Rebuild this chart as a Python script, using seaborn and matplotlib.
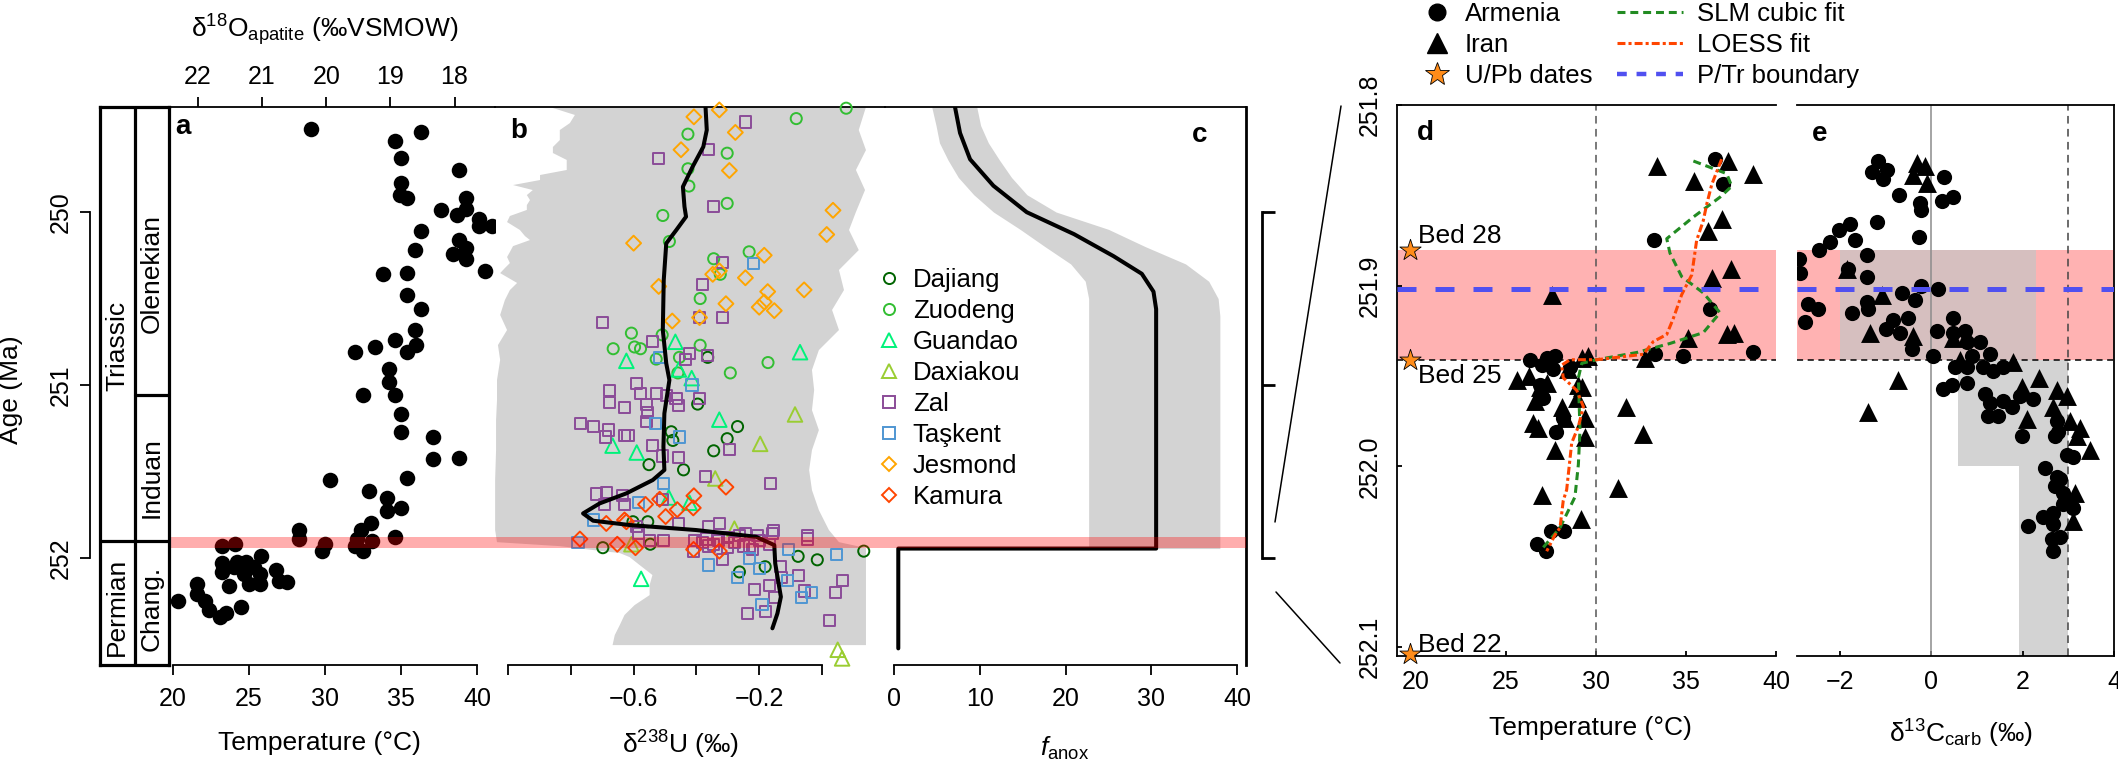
import numpy as np
import pandas as pd
import matplotlib
matplotlib.use("Agg")
import matplotlib.pyplot as plt
from matplotlib.lines import Line2D
import seaborn as sns

# ------------------------------------------------------------------ data
# Panel a: conodont apatite temperatures
a_temp = [29.1, 36.3, 34.6, 35.0, 38.8, 35.0, 34.9, 35.4, 39.3, 37.6,
          38.7, 39.3, 40.1, 41.0, 40.1, 36.3, 38.8, 39.3, 38.4, 39.3,
          35.9, 40.5, 35.4, 33.8, 35.4, 36.3, 35.9, 34.6, 36.0, 33.3,
          32.0, 35.4, 34.2, 34.2, 32.5, 34.6, 35.0, 35.0, 37.1, 37.1,
          38.8, 30.3, 35.4, 32.9, 34.1, 34.1, 35.0, 33.0, 32.4, 28.3,
          28.3, 34.6, 32.1, 33.1, 32.0, 30.0, 29.8, 32.5, 23.2, 24.1,
          23.2, 23.2, 24.2, 24.8, 25.8, 25.3, 24.0, 26.8, 24.7, 25.7,
          27.0, 27.5, 25.0, 25.7, 23.7, 21.6, 21.6, 22.1, 20.3, 22.4,
          24.5, 23.5, 23.1]
a_age = [249.52, 249.54, 249.59, 249.69, 249.76, 249.83, 249.90, 249.92, 249.92, 249.99,
         250.02, 249.98, 250.04, 250.08, 250.08, 250.11, 250.16, 250.21, 250.24, 250.27,
         250.22, 250.34, 250.35, 250.36, 250.48, 250.56, 250.68, 250.74, 250.77, 250.78,
         250.81, 250.81, 250.91, 250.98, 251.06, 251.06, 251.17, 251.27, 251.30, 251.43,
         251.42, 251.55, 251.54, 251.61, 251.65, 251.73, 251.71, 251.80, 251.84, 251.84,
         251.89, 251.88, 251.89, 251.90, 251.93, 251.92, 251.96, 251.96, 251.93, 251.92,
         252.03, 252.08, 252.02, 252.02, 251.99, 252.05, 252.05, 252.07, 252.09, 252.09,
         252.13, 252.14, 252.15, 252.15, 252.16, 252.15, 252.21, 252.25, 252.25, 252.30,
         252.28, 252.32, 252.34]
# d18O(apatite) <-> temperature calibration used for the top axis
CAL_A, CAL_B, D18O_WATER = 118.7, 4.22, -1.0
d18o_ticks = [22, 21, 20, 19, 18]
temp_ticks = [20, 25, 30, 35, 40]
age_ticks = [250, 251, 252]

# stratigraphic column
ptb_age = 251.90
ind_ole_age = 251.06
strat_labels = ["Triassic", "Olenekian", "Induan", "Permian", "Chang."]
strat_label_age = [250.775, 250.353, 251.532, 252.283, 252.289]
strat_label_col = [0.25, 0.75, 0.75, 0.25, 0.75]

# pink event band in a-c
band_ac = (251.88, 251.944)

# Panel b: d238U by section
site_names = ["Dajiang", "Zuodeng", "Guandao", "Daxiakou", "Zal", "Taşkent", "Jesmond", "Kamura"]
site_colors = ["#006400", "#32be32", "#00f27a", "#9acd32", "#8b4c98", "#4f96d2", "#ffa500", "#ff4500"]
site_markers = ["o", "o", "^", "^", "s", "s", "D", "D"]

dajiang_u = [-0.364, -0.396, -0.269, -0.480, -0.475, -0.302, -0.551, -0.441, -0.345, -0.698,
             -0.547, -0.076, -0.015, -0.263, -0.181, 0.133, -0.602, -0.555]
dajiang_age = [250.84, 251.11, 251.24, 251.27, 251.32, 251.31, 251.46, 251.49, 251.38, 251.94,
               251.92, 251.99, 252.01, 252.08, 252.05, 251.96, 251.79, 251.79]
zuodeng_u = [-0.082, 0.077, -0.427, -0.302, -0.427, -0.424, -0.302, -0.507, -0.486, -0.232,
             -0.345, -0.324, -0.388, -0.607, -0.665, -0.597, -0.578, -0.509, -0.528, -0.388,
             -0.172, -0.292, -0.459, -0.454]
zuodeng_age = [249.46, 249.40, 249.55, 249.66, 249.75, 249.85, 249.95, 250.02, 250.17, 250.23,
               250.27, 250.36, 250.50, 250.70, 250.79, 250.78, 250.79, 250.71, 250.85, 250.77,
               250.87, 250.93, 250.93, 250.84]
guandao_u = [-0.623, -0.467, -0.070, -0.456, -0.415, -0.327, -0.667, -0.590, -0.488, -0.422, -0.576]
guandao_age = [250.86, 250.75, 250.81, 250.91, 250.96, 251.20, 251.35, 251.39, 251.65, 251.68, 252.12]
daxiakou_u = [-0.086, -0.197, -0.340, 0.050, 0.064, -0.279, -0.607]
daxiakou_age = [251.17, 251.34, 251.54, 252.53, 252.58, 251.83, 251.92]
zal_u = [-0.244, -0.361, -0.520, -0.345, -0.317, -0.382, -0.390, -0.317, -0.700, -0.539,
         -0.422, -0.366, -0.435, -0.590, -0.678, -0.579, -0.528, -0.496, -0.465, -0.678,
         -0.629, -0.560, -0.555, -0.456, -0.390, -0.769, -0.729, -0.681, -0.689, -0.629,
         -0.618, -0.560, -0.539, -0.507, -0.456, -0.295, -0.371, -0.165, -0.717, -0.687,
         -0.636, -0.692, -0.629, -0.509, -0.456, -0.592, -0.327, -0.361, -0.155, -0.047,
         -0.206, -0.243, -0.406, -0.369, -0.263, -0.157, -0.047, -0.302, -0.232, -0.318,
         -0.168, -0.131, -0.076, -0.128, 0.064, 0.043, -0.216, -0.168, -0.152, -0.057,
         -0.237, -0.179, 0.025, -0.504, -0.549, -0.583, -0.410, -0.346, -0.380, -0.330,
         -0.280, -0.250, -0.200, -0.300, -0.360, -0.220]
zal_age = [249.48, 249.64, 249.69, 249.97, 250.29, 250.42, 250.61, 250.61, 250.64, 250.75,
           250.82, 250.83, 250.85, 250.99, 251.03, 251.05, 251.05, 251.06, 251.08, 251.10,
           251.13, 251.11, 251.16, 251.12, 251.08, 251.22, 251.24, 251.26, 251.30, 251.29,
           251.29, 251.21, 251.35, 251.41, 251.42, 251.37, 251.53, 251.57, 251.63, 251.62,
           251.64, 251.69, 251.69, 251.66, 251.80, 251.82, 251.80, 251.82, 251.84, 251.87,
           251.87, 251.86, 251.90, 251.89, 251.87, 251.86, 251.89, 251.94, 251.93, 252.01,
           251.92, 252.05, 252.10, 252.11, 252.13, 252.20, 252.18, 252.16, 252.23, 252.19,
           252.32, 252.31, 252.36, 251.90, 251.90, 251.86, 251.96, 251.92, 251.91, 251.90,
           251.91, 251.93, 251.90, 251.88, 251.93, 251.95]
taskent_u = [-0.218, -0.517, -0.414, -0.531, -0.454, -0.504, -0.583, -0.729, -0.777, -0.361,
             -0.232, -0.269, -0.200, -0.107, -0.110, -0.034, -0.066, -0.191, 0.046]
taskent_age = [250.30, 250.84, 251.00, 251.22, 251.30, 251.57, 251.68, 251.78, 251.91, 252.04,
               252.00, 252.11, 252.06, 251.95, 252.13, 252.20, 252.23, 252.27, 251.98]
jesmond_u = [-0.408, -0.327, -0.276, -0.449, -0.295, 0.035, 0.015, -0.600, -0.184, -0.327,
             -0.348, -0.244, -0.057, -0.520, -0.173, -0.306, -0.200, -0.152, -0.390, -0.477, -0.184]
jesmond_age = [249.45, 249.41, 249.54, 249.64, 249.76, 249.99, 250.13, 250.18, 250.25, 250.34,
               250.36, 250.38, 250.45, 250.43, 250.46, 250.53, 250.55, 250.57, 250.61, 250.63, 250.52]
kamura_u = [-0.306, -0.408, -0.517, -0.562, -0.461, -0.410, -0.498, -0.687, -0.629, -0.771,
            -0.652, -0.594, -0.409, -0.327, -0.623]
kamura_age = [251.59, 251.64, 251.66, 251.69, 251.72, 251.71, 251.76, 251.80, 251.78, 251.89,
              251.92, 251.94, 251.95, 251.96, 251.79]

# model envelope and median in panel b
b_env_left_age = [249.393, 249.439, 249.486, 249.526, 249.584, 249.624, 249.659, 249.699, 249.757, 249.786,
                  249.815, 249.844, 249.873, 249.902, 249.931, 249.960, 249.988, 250.023, 250.058, 250.104,
                  250.139, 250.162, 250.197, 250.231, 250.260, 250.295, 250.324, 250.353, 250.410, 250.451,
                  250.509, 250.595, 250.682, 250.769, 250.855, 250.971, 251.087, 251.202, 251.376, 251.549,
                  251.723, 251.838, 251.908, 251.931, 251.948, 251.971, 251.994, 252.040, 252.098, 252.156,
                  252.214, 252.272, 252.329, 252.387, 252.445, 252.503]
b_env_left_u = [-0.867, -0.787, -0.803, -0.835, -0.835, -0.857, -0.857, -0.813, -0.813, -0.898,
                -0.898, -0.984, -0.921, -0.940, -0.930, -0.940, -0.940, -0.994, -1.003, -0.962,
                -0.946, -0.930, -0.984, -0.994, -1.003, -0.994, -1.010, -1.025, -0.971, -0.994,
                -1.010, -1.025, -1.003, -1.032, -1.025, -1.035, -1.035, -1.038, -1.038, -1.041,
                -1.041, -1.041, -1.035, -0.835, -0.756, -0.644, -0.613, -0.581, -0.540, -0.549,
                -0.549, -0.597, -0.629, -0.644, -0.660, -0.667]
b_env_right_age = [249.393, 249.526, 249.642, 249.757, 249.873, 250.000, 250.104, 250.220, 250.335, 250.451,
                   250.566, 250.682, 250.798, 250.913, 251.029, 251.145, 251.260, 251.376, 251.491, 251.607,
                   251.723, 251.838, 251.908, 251.942, 252.503]
b_env_right_u = [0.140, 0.117, 0.140, 0.108, 0.137, 0.108, 0.086, 0.117, 0.054, 0.070,
                 0.032, 0.054, -0.010, -0.032, -0.025, -0.032, -0.010, -0.032, -0.041, -0.032,
                 -0.010, 0.022, 0.054, 0.140, 0.140]
b_med_u = [-0.371, -0.367, -0.378, -0.412, -0.443, -0.438, -0.433, -0.464, -0.496, -0.504,
           -0.507, -0.496, -0.486, -0.502, -0.505, -0.502, -0.539, -0.623, -0.708, -0.761,
           -0.729, -0.613, -0.401, -0.210, -0.152, -0.149, -0.131, -0.142, -0.158]
b_med_age = [249.391, 249.526, 249.623, 249.738, 249.854, 249.969, 250.027, 250.104, 250.181, 250.393,
             250.682, 250.875, 250.971, 251.164, 251.357, 251.491, 251.549, 251.626, 251.684, 251.742,
             251.784, 251.809, 251.838, 251.877, 251.925, 252.031, 252.224, 252.320, 252.406]
u_ticks = [-1.0, -0.8, -0.6, -0.4, -0.2, 0.0]
u_ticklabels = ["", "", "\u22120.6", "", "\u22120.2", ""]

# Panel c: f_anox ensemble envelope and median
c_env_age = [249.393, 249.5, 249.6, 249.7, 249.8, 249.9, 250.0, 250.1, 250.2, 250.3, 250.4, 250.5, 250.6, 251.945]
c_env_left = [4.4, 4.9, 5.3, 6.3, 7.5, 9.3, 11.6, 14.7, 17.6, 20.6, 22.3, 22.7, 22.7, 22.7]
c_env_right = [9.65, 10.1, 11.0, 12.3, 13.7, 15.5, 18.9, 25.0, 29.3, 34.0, 36.7, 37.8, 38.0, 38.0]
c_med_f = [7.12, 7.70, 8.87, 11.59, 15.48, 21.0, 25.6, 28.9, 30.26, 30.57, 30.57, 0.5, 0.5]
c_med_age = [249.395, 249.543, 249.695, 249.848, 250.001, 250.128, 250.255, 250.357, 250.46, 250.561,
             251.945, 251.945, 252.522]
f_ticks = [0, 10, 20, 30, 40]

# Panel d: temperatures across the boundary
iran_t = [33.41, 37.35, 35.44, 38.70, 36.98, 36.21, 36.43, 37.50, 27.54, 35.09,
          37.26, 37.69, 32.72, 29.21, 29.57, 25.59, 26.30, 27.26, 29.21, 28.46,
          26.89, 29.02, 26.61, 28.09, 28.93, 29.39, 28.28, 31.65, 26.52, 26.80,
          32.63, 29.39, 27.72, 31.24, 26.98, 29.17]
iran_t_age = [251.834, 251.831, 251.842, 251.838, 251.863, 251.870, 251.896, 251.891, 251.905, 251.929,
              251.927, 251.926, 251.940, 251.940, 251.939, 251.952, 251.950, 251.954, 251.956, 251.946,
              251.956, 251.955, 251.964, 251.967, 251.962, 251.973, 251.973, 251.967, 251.976, 251.979,
              251.982, 251.984, 251.991, 252.012, 252.016, 252.029]
arm_t = [36.61, 37.04, 33.22, 36.33, 33.28, 34.81, 38.74, 26.33, 27.26, 27.72,
         26.98, 27.63, 26.89, 28.56, 27.07, 28.18, 27.78, 27.48, 28.24, 26.70, 27.22]
arm_t_age = [251.830, 251.844, 251.875, 251.913, 251.938, 251.939, 251.937, 251.941, 251.940, 251.939,
             251.944, 251.946, 251.955, 251.945, 251.962, 251.973, 251.981, 252.036, 252.036, 252.043, 252.047]
slm_t = [35.41, 37.26, 37.54, 36.89, 35.41, 33.93, 34.11, 34.76, 35.96, 36.89,
         35.96, 34.11, 32.26, 30.04, 29.21, 29.02, 29.11, 29.02, 28.83, 28.0, 26.89]
slm_age = [251.831, 251.838, 251.845, 251.851, 251.862, 251.874, 251.882, 251.895, 251.904, 251.915,
           251.926, 251.932, 251.937, 251.941, 251.943, 251.951, 251.980, 251.999, 252.017, 252.034, 252.047]
loess_t = [36.98, 36.43, 36.15, 35.96, 35.59, 35.32, 34.76, 34.30, 33.93, 33.18,
           32.63, 30.04, 28.56, 28.09, 28.18, 28.93, 29.30, 29.02, 28.65, 28.37,
           28.18, 28.0, 27.72, 27.26]
loess_age = [251.830, 251.844, 251.855, 251.864, 251.875, 251.894, 251.905, 251.918, 251.927, 251.931,
             251.938, 251.941, 251.941, 251.944, 251.951, 251.958, 251.967, 251.978, 251.987, 252.013,
             252.019, 252.034, 252.038, 252.047]
bed_labels = ["Bed 28", "Bed 25", "Bed 22"]
bed_ages = [251.880, 251.941, 252.104]
BED_MARK_T = 19.67
band_de = (251.880, 251.941)
ptb_de = 251.902
d_temp_ref = 30
d_ticks_age = [251.8, 251.9, 252.0, 252.1]

# Panel e: d13C carb
arm_c = [-1.152, -1.297, -0.969, -1.042, -0.692, -0.240, -0.219, 0.284, 0.233, 0.488,
         -1.187, -0.262, -2.004, -1.770, -1.661, -2.208, -2.441, -2.880, -2.863, -1.406,
         -1.821, -1.406, -2.696, -2.463, -2.754, -1.406, -1.385, -1.734, -0.641, -0.350,
         -0.219, 0.160, -0.984, -0.823, -0.496, -0.678, -0.423, 0.124, 0.488, 0.743,
         0.488, 0.779, 1.071, 0.051, 0.889, 1.290, 1.581, 1.362, 1.144, 0.779,
         0.525, 0.270, 0.452, 0.779, 1.180, 1.290, 1.581, 1.763, 1.253, 1.472,
         1.945, 2.237, 1.982, 2.492, 2.747, 2.711, 2.784, 2.966, 3.111, 2.747,
         2.711, 2.893, 2.893, 3.111, 2.674, 2.456, 2.674, 2.128, 2.638, 2.820,
         2.674, 2.820]
arm_c_age = [251.831, 251.837, 251.836, 251.841, 251.850, 251.854, 251.858, 251.840, 251.853, 251.851,
             251.865, 251.873, 251.869, 251.866, 251.875, 251.876, 251.880, 251.885, 251.893, 251.883,
             251.891, 251.895, 251.910, 251.913, 251.920, 251.909, 251.913, 251.915, 251.904, 251.908,
             251.900, 251.902, 251.924, 251.919, 251.918, 251.926, 251.935, 251.925, 251.918, 251.925,
             251.926, 251.931, 251.931, 251.939, 251.939, 251.938, 251.945, 251.947, 251.945, 251.945,
             251.945, 251.957, 251.955, 251.954, 251.960, 251.965, 251.964, 251.967, 251.972, 251.972,
             251.961, 251.963, 251.983, 252.001, 251.975, 251.983, 251.981, 251.994, 251.995, 252.006,
             252.011, 252.015, 252.021, 252.023, 252.026, 252.028, 252.032, 252.033, 252.040, 252.039,
             252.047, 252.007]
iran_c = [-0.313, -0.131, -0.386, -0.095, -1.843, -1.078, -1.333, -0.401, 0.488, 0.634,
          1.799, -0.714, -1.370, 1.982, 2.368, 2.747, 2.966, 2.674, 3.038, 3.257,
          3.475, 3.184, 2.092, 3.148, 3.111]
iran_c_age = [251.832, 251.834, 251.839, 251.843, 251.891, 251.905, 251.926, 251.928, 251.929, 251.941,
              251.942, 251.952, 251.970, 251.956, 251.951, 251.958, 251.961, 251.967, 251.975, 251.979,
              251.991, 251.983, 251.974, 252.015, 252.030]
# grey uncertainty boxes in e: (age top, age bottom, d13C left, d13C right)
e_box_top = [251.880, 251.941, 252.000]
e_box_bot = [251.941, 252.000, 252.105]
e_box_left = [-1.99, 0.60, 1.93]
e_box_right = [2.30, 3.00, 3.00]
e_ref_c = 3.0
c13_ticks = [-2, 0, 2, 4]

# ------------------------------------------------------------------ style
sns.set_theme(style="ticks")
plt.rcParams["font.family"] = ["Liberation Sans", "DejaVu Sans"]
plt.rcParams["mathtext.fontset"] = "custom"
plt.rcParams["mathtext.rm"] = "Liberation Sans"
plt.rcParams["mathtext.it"] = "Liberation Sans:italic"
plt.rcParams["mathtext.bf"] = "Liberation Sans:bold"
plt.rcParams["axes.edgecolor"] = "black"
plt.rcParams["xtick.color"] = "black"
plt.rcParams["ytick.color"] = "black"
plt.rcParams["text.color"] = "black"
plt.rcParams["axes.unicode_minus"] = True

W, H = 2118, 767
fig = plt.figure(figsize=(W / 100, H / 100), dpi=100)


def rect(x0, y0, x1, y1):
    return [x0 / W, 1 - y1 / H, (x1 - x0) / W, (y1 - y0) / H]


TICK = 18
LAB = 19
LW_AX = 1.3


def only_spines(ax, keep):
    for k, sp in ax.spines.items():
        sp.set_visible(k in keep)
        sp.set_linewidth(LW_AX)


# ------------------------------------------------------------------ panel a
ax_a = fig.add_axes(rect(169, 107, 495, 665), facecolor="none")
ax_a.set_xlim(19.74, 41.18)
ax_a.set_ylim(252.618, 249.393)
sns.scatterplot(x=a_temp, y=a_age, ax=ax_a, color="black", s=125, linewidth=0, zorder=3, legend=False)
ax_a.axhspan(*band_ac, color="red", alpha=0.32, lw=0, zorder=5)
only_spines(ax_a, ["top", "bottom", "left"])
ax_a.spines["bottom"].set_bounds(20, 40)
ax_a.spines["left"].set_position(("outward", 79 * 0.72))
ax_a.spines["left"].set_bounds(250, 252)
ax_a.set_xticks(temp_ticks)
ax_a.tick_params(axis="x", direction="out", length=7.2, width=LW_AX, labelsize=TICK, pad=9, top=False, bottom=True)
ax_a.set_yticks(age_ticks)
ax_a.set_yticklabels([str(v) for v in age_ticks], rotation=90, va="center")
ax_a.tick_params(axis="y", direction="out", length=7.2, width=LW_AX, labelsize=TICK, pad=5, left=True, right=False)


def d18o_from_t(t):
    return D18O_WATER + (CAL_A - np.asarray(t, dtype=float)) / CAL_B


def t_from_d18o(d):
    return CAL_A - CAL_B * (np.asarray(d, dtype=float) - D18O_WATER)


sec = ax_a.secondary_xaxis("top", functions=(d18o_from_t, t_from_d18o))
sec.set_xticks(d18o_ticks)
sec.tick_params(direction="out", length=7.2, width=LW_AX, labelsize=TICK, pad=6)
sec.spines["top"].set_visible(False)
ax_a.text(0.042, 0.965, "a", transform=ax_a.transAxes, fontsize=20, fontweight="bold", ha="center", va="center")

# stratigraphic column
ax_s = fig.add_axes(rect(100, 107, 169, 665), sharey=ax_a, facecolor="none")
ax_s.set_xlim(0, 1)
for sp in ax_s.spines.values():
    sp.set_visible(True)
    sp.set_linewidth(2.3)
ax_s.tick_params(left=False, labelleft=False, bottom=False, labelbottom=False)
ax_s.axvline(0.5, color="black", lw=2.3)
ax_s.axhline(ptb_age, 0, 1, color="black", lw=2.3)
ax_s.axhline(ind_ole_age, 0.5, 1, color="black", lw=2.3)
for lab, ag, col in zip(strat_labels, strat_label_age, strat_label_col):
    ax_s.text(col, ag, lab, rotation=90, ha="center", va="center", fontsize=LAB)

# ------------------------------------------------------------------ panel b
ax_b = fig.add_axes(rect(495, 107, 885, 665), sharey=ax_a, facecolor="none")
ax_b.set_xlim(-1.0414, 0.2006)
env_x = list(b_env_left_u) + list(b_env_right_u[::-1])
env_y = list(b_env_left_age) + list(b_env_right_age[::-1])
ax_b.fill(env_x, env_y, color="#d3d3d3", lw=0, zorder=1)

site_u = [dajiang_u, zuodeng_u, guandao_u, daxiakou_u, zal_u, taskent_u, jesmond_u, kamura_u]
site_age = [dajiang_age, zuodeng_age, guandao_age, daxiakou_age, zal_age, taskent_age, jesmond_age, kamura_age]
marker_s = {"o": 64, "^": 110, "s": 64, "D": 58}
marker_ms = {"o": 8.0, "^": 10.5, "s": 8.0, "D": 7.6}
for u, ag, mk, col in zip(site_u, site_age, site_markers, site_colors):
    sns.scatterplot(x=u, y=ag, ax=ax_b, marker=mk, s=marker_s[mk], color=col, facecolor="none",
                    edgecolor=col, linewidth=1.4, zorder=3, legend=False, clip_on=False)
ax_b.plot(b_med_u, b_med_age, color="black", lw=2.9, zorder=4, solid_capstyle="round")
ax_b.axhspan(*band_ac, color="red", alpha=0.32, lw=0, zorder=5)
only_spines(ax_b, ["top", "bottom"])
ax_b.spines["bottom"].set_bounds(-1.0, 0.0)
ax_b.set_xticks(u_ticks)
ax_b.set_xticklabels(u_ticklabels)
ax_b.tick_params(axis="x", direction="out", length=7.2, width=LW_AX, labelsize=TICK, pad=9, top=False, bottom=True)
ax_b.tick_params(axis="y", left=False, labelleft=False, right=False)
ax_b.text(0.06, 0.957, "b", transform=ax_b.transAxes, fontsize=20, fontweight="bold", ha="center", va="center")

# ------------------------------------------------------------------ panel c
ax_c = fig.add_axes(rect(885, 107, 1246, 665), sharey=ax_a, facecolor="none")
ax_c.set_xlim(-1.05, 41.05)
ax_c.fill_betweenx(c_env_age, c_env_left, c_env_right, color="#d3d3d3", lw=0, zorder=1)
ax_c.plot(c_med_f, c_med_age, color="black", lw=2.9, zorder=4)
ax_c.axhspan(*band_ac, color="red", alpha=0.32, lw=0, zorder=5)
only_spines(ax_c, ["top", "bottom", "right"])
ax_c.spines["right"].set_linewidth(2.0)
ax_c.spines["bottom"].set_bounds(0, 40)
ax_c.set_xticks(f_ticks)
ax_c.tick_params(axis="x", direction="out", length=7.2, width=LW_AX, labelsize=TICK, pad=9, top=False, bottom=True)
ax_c.tick_params(axis="y", left=False, labelleft=False, right=False)
ax_c.text(0.872, 0.95, "c", transform=ax_c.transAxes, fontsize=20, fontweight="bold", ha="center", va="center")

site_handles = [Line2D([], [], ls="none", marker=mk, ms=marker_ms[mk], mfc="none", mec=col, mew=1.4)
                for mk, col in zip(site_markers, site_colors)]
fig.legend(site_handles, site_names, loc="upper left", bbox_to_anchor=(876 / W, 1 - 268 / H),
           bbox_transform=fig.transFigure, frameon=False, fontsize=18.5, handlelength=1.0,
           handletextpad=0.43, labelspacing=0.27, borderpad=0, borderaxespad=0)

# bracket marking the zoomed interval
ax_br = fig.add_axes(rect(1262, 107, 1280, 665), sharey=ax_a, facecolor="none")
only_spines(ax_br, ["left"])
ax_br.spines["left"].set_linewidth(2.0)
ax_br.spines["left"].set_bounds(250, 252)
ax_br.tick_params(axis="y", direction="in", length=9.4, width=2.0, left=True, labelleft=False, right=False)
ax_br.tick_params(axis="x", bottom=False, labelbottom=False)

# ------------------------------------------------------------------ panel d
ax_d = fig.add_axes(rect(1397, 105, 1776, 656), facecolor="none")
ax_d.set_xlim(18.944, 40.0)
ax_d.set_ylim(252.105, 251.8)
ax_d.axhspan(*band_de, color="red", alpha=0.3, lw=0, zorder=0)
ax_d.axvline(d_temp_ref, color="#555555", lw=1.1, ls=(0, (5, 3.5)), zorder=1)
ax_d.axhline(band_de[1], color="black", lw=1.1, ls=(0, (4, 3)), zorder=1)
sns.scatterplot(x=arm_t, y=arm_t_age, ax=ax_d, color="black", marker="o", s=120, linewidth=0, zorder=3, legend=False)
sns.scatterplot(x=iran_t, y=iran_t_age, ax=ax_d, color="black", marker="^", s=185, linewidth=0, zorder=3, legend=False)
ax_d.plot(slm_t, slm_age, color="#228b22", lw=2.2, ls=(0, (2.6, 1.6)), zorder=4)
ax_d.plot(loess_t, loess_age, color="#ff4500", lw=2.2, ls=(0, (2.6, 1.0, 1.0, 1.0)), zorder=4)
ax_d.axhline(ptb_de, color="#5050f0", lw=3.6, ls=(0, (3.8, 3.8)), zorder=5)
sns.scatterplot(x=[BED_MARK_T] * len(bed_ages), y=bed_ages, ax=ax_d, marker="*", s=260, color="#ff8c1a",
                edgecolor="black", linewidth=0.6, zorder=6, legend=False, clip_on=False)
bed_offsets = [(6, 5), (6, -17), (6, 1.5)]
for lab, ag, off in zip(bed_labels, bed_ages, bed_offsets):
    ax_d.annotate(lab, (BED_MARK_T, ag), xytext=off, textcoords="offset points", ha="left", va="baseline",
                  fontsize=LAB, zorder=7)
only_spines(ax_d, ["top", "bottom", "left"])
ax_d.set_xticks(temp_ticks)
ax_d.tick_params(axis="x", direction="in", length=3.6, width=LW_AX, labelsize=TICK, pad=10, top=False, bottom=True)
ax_d.set_yticks(d_ticks_age)
ax_d.set_yticklabels([f"{v:.1f}" for v in d_ticks_age], rotation=90, va="center")
ax_d.tick_params(axis="y", direction="in", length=3.6, width=LW_AX, labelsize=TICK, pad=11, left=True, right=False)
ax_d.text(0.075, 0.95, "d", transform=ax_d.transAxes, fontsize=20, fontweight="bold", ha="center", va="center")

# ------------------------------------------------------------------ panel e
ax_e = fig.add_axes(rect(1797, 105, 2114, 656), sharey=ax_d, facecolor="none")
ax_e.set_xlim(-2.93, 4.0)
ax_e.axhspan(*band_de, color="red", alpha=0.3, lw=0, zorder=0)
for i, (t0, t1, x0, x1) in enumerate(zip(e_box_top, e_box_bot, e_box_left, e_box_right)):
    ax_e.fill_betweenx([t0, t1], x0, x1, color="#d6bfbf" if i == 0 else "#d3d3d3", lw=0, zorder=0.5)
ax_e.axvline(0, color="#8c8c8c", lw=1.1, zorder=1)
ax_e.axvline(e_ref_c, color="#444444", lw=1.1, ls=(0, (5, 3.5)), zorder=1)
ax_e.axhline(band_de[1], color="black", lw=1.1, ls=(0, (4, 3)), zorder=1)
sns.scatterplot(x=arm_c, y=arm_c_age, ax=ax_e, color="black", marker="o", s=120, linewidth=0, zorder=3, legend=False)
sns.scatterplot(x=iran_c, y=iran_c_age, ax=ax_e, color="black", marker="^", s=185, linewidth=0, zorder=3, legend=False)
ax_e.axhline(ptb_de, color="#5050f0", lw=3.6, ls=(0, (3.8, 3.8)), zorder=5)
only_spines(ax_e, ["top", "bottom", "right"])
ax_e.set_xticks(c13_ticks)
ax_e.tick_params(axis="x", direction="in", length=3.6, width=LW_AX, labelsize=TICK, pad=10, top=False, bottom=True)
ax_e.tick_params(axis="y", left=False, labelleft=False, right=False)
ax_e.text(0.07, 0.947, "e", transform=ax_e.transAxes, fontsize=20, fontweight="bold", ha="center", va="center")

# legends for d/e
h1 = [Line2D([], [], ls="none", marker="o", color="black", ms=12),
      Line2D([], [], ls="none", marker="^", color="black", ms=15),
      Line2D([], [], ls="none", marker="*", mfc="#ff8c1a", mec="black", mew=0.6, ms=18)]
fig.legend(h1, ["Armenia", "Iran", "U/Pb dates"], loc="upper left", bbox_to_anchor=(1424 / W, 1 - 2 / H),
           bbox_transform=fig.transFigure, frameon=False, fontsize=18.5, handlelength=1.0,
           handletextpad=0.6, labelspacing=0.27, borderpad=0, borderaxespad=0)
h2 = [Line2D([], [], color="#228b22", lw=2.2, ls=(0, (2.6, 1.6))),
      Line2D([], [], color="#ff4500", lw=2.2, ls=(0, (2.6, 1.0, 1.0, 1.0))),
      Line2D([], [], color="#5050f0", lw=3.2, ls=(0, (2.2, 2.2)))]
fig.legend(h2, ["SLM cubic fit", "LOESS fit", "P/Tr boundary"], loc="upper left",
           bbox_to_anchor=(1617 / W, 1 - 2 / H), bbox_transform=fig.transFigure, frameon=False,
           fontsize=18.5, handlelength=2.57, handletextpad=0.54, labelspacing=0.27, borderpad=0, borderaxespad=0)

# zoom connector lines
for (x0, y0), (x1, y1) in [((1341, 106), (1275, 522)), ((1276, 592), (1340, 663))]:
    fig.add_artist(Line2D([x0 / W, x1 / W], [1 - y0 / H, 1 - y1 / H], transform=fig.transFigure,
                          color="black", lw=1.1))

# ------------------------------------------------------------------ axis titles
fig.text(325 / W, 1 - 30 / H, "δ$^{18}$O$_{\\mathrm{apatite}}$ (‰VSMOW)", ha="center", va="center", fontsize=LAB)
fig.text(11 / W, 1 - 390 / H, "Age (Ma)", ha="center", va="center", rotation=90, fontsize=LAB)
fig.text(319 / W, 1 - 743 / H, "Temperature (°C)", ha="center", va="center", fontsize=LAB)
fig.text(681 / W, 1 - 745 / H, "δ$^{238}$U (‰)", ha="center", va="center", fontsize=LAB)
fig.text(1065 / W, 1 - 748 / H, "$f_{\\mathrm{anox}}$", ha="center", va="center", fontsize=LAB)
fig.text(1590 / W, 1 - 728 / H, "Temperature (°C)", ha="center", va="center", fontsize=LAB)
fig.text(1961 / W, 1 - 734 / H, "δ$^{13}$C$_{\\mathrm{carb}}$ (‰)", ha="center", va="center", fontsize=LAB)

fig.savefig("out.png", dpi=100)
